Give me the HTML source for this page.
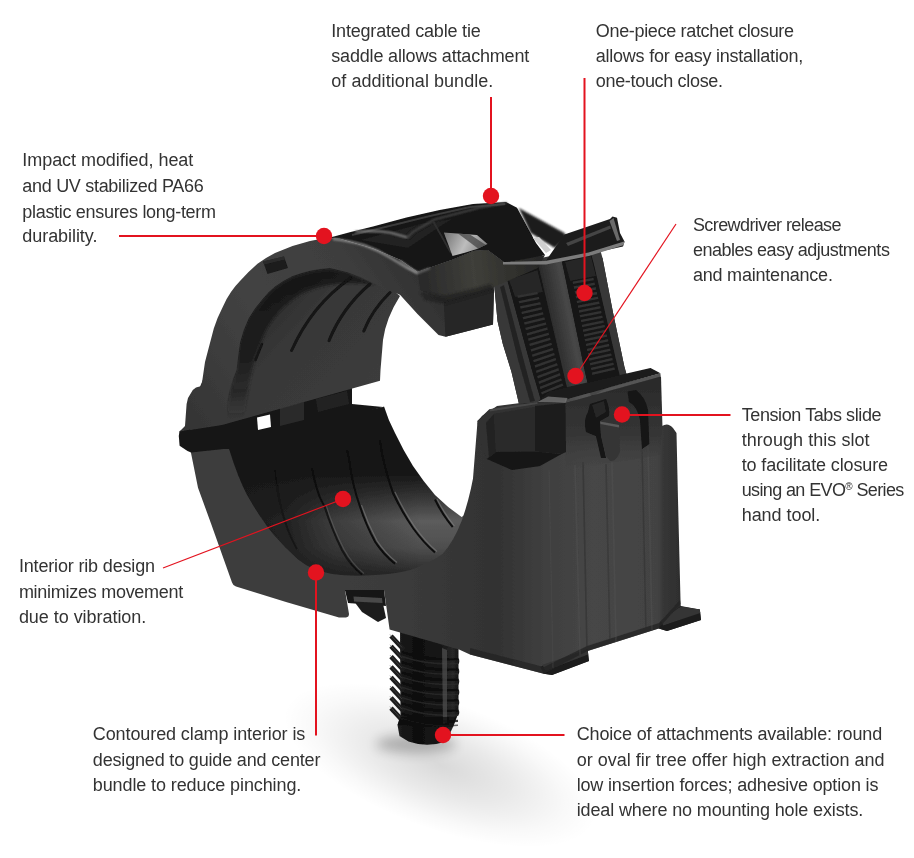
<!DOCTYPE html>
<html lang="en">
<head>
<meta charset="utf-8">
<title>Clamp features</title>
<style>
html,body{margin:0;padding:0;background:#fff;}
body{width:914px;height:858px;overflow:hidden;position:relative;}
svg{position:absolute;left:0;top:0;display:block;}
.t text{font-family:"Liberation Sans",Arial,Helvetica,sans-serif;font-size:18px;fill:#333;}
</style>
</head>
<body>
<svg width="914" height="858" viewBox="0 0 914 858">
<defs>
<!--DEFS-->
<linearGradient id="gStud" gradientUnits="userSpaceOnUse" x1="398" y1="0" x2="459" y2="0">
  <stop offset="0" stop-color="#1c1c1c"/><stop offset=".3" stop-color="#0f0f0f"/><stop offset=".68" stop-color="#161616"/><stop offset=".9" stop-color="#262626"/><stop offset="1" stop-color="#151515"/>
</linearGradient>
<linearGradient id="gInner" gradientUnits="userSpaceOnUse" x1="220" y1="440" x2="440" y2="560">
  <stop offset="0" stop-color="#1f1f1f"/><stop offset=".35" stop-color="#171717"/><stop offset=".62" stop-color="#2b2b2b"/><stop offset=".8" stop-color="#232323"/><stop offset="1" stop-color="#333"/>
</linearGradient>
<linearGradient id="gLit" gradientUnits="userSpaceOnUse" x1="340" y1="545" x2="452" y2="478">
  <stop offset="0" stop-color="#2a2a2a" stop-opacity="0"/><stop offset=".3" stop-color="#3a3a3a" stop-opacity=".8"/><stop offset=".6" stop-color="#505050"/><stop offset="1" stop-color="#666"/>
</linearGradient>
<linearGradient id="gFront" gradientUnits="userSpaceOnUse" x1="190" y1="0" x2="682" y2="0">
  <stop offset="0" stop-color="#3d3d3d"/><stop offset=".2" stop-color="#3e3e3e"/><stop offset=".45" stop-color="#3a3a3a"/><stop offset=".575" stop-color="#343434"/><stop offset=".625" stop-color="#323232"/><stop offset=".66" stop-color="#373737"/><stop offset=".72" stop-color="#3f3f3f"/><stop offset=".82" stop-color="#464646"/><stop offset=".95" stop-color="#434343"/><stop offset=".963" stop-color="#363636"/><stop offset="1" stop-color="#2d2d2d"/>
</linearGradient>
<linearGradient id="gBody" gradientUnits="userSpaceOnUse" x1="470" y1="0" x2="682" y2="0">
  <stop offset="0" stop-color="#2e2e2e"/><stop offset=".2" stop-color="#2f2f2f"/><stop offset=".38" stop-color="#3d3d3d"/><stop offset=".6" stop-color="#474747"/><stop offset=".85" stop-color="#454545"/><stop offset=".96" stop-color="#3a3a3a"/><stop offset="1" stop-color="#2c2c2c"/>
</linearGradient>
<linearGradient id="gTrans" gradientUnits="userSpaceOnUse" x1="440" y1="0" x2="530" y2="0">
  <stop offset="0" stop-color="#363636" stop-opacity="0"/><stop offset=".5" stop-color="#272727" stop-opacity=".85"/><stop offset="1" stop-color="#2e2e2e" stop-opacity="0"/>
</linearGradient>
<linearGradient id="gHead" gradientUnits="userSpaceOnUse" x1="0" y1="380" x2="0" y2="470">
  <stop offset="0" stop-color="#2a2a2a"/><stop offset=".6" stop-color="#353535"/><stop offset="1" stop-color="#404040" stop-opacity="0"/>
</linearGradient>
<linearGradient id="gRibFace" gradientUnits="userSpaceOnUse" x1="240" y1="290" x2="370" y2="410">
  <stop offset="0" stop-color="#262626"/><stop offset=".4" stop-color="#383838"/><stop offset="1" stop-color="#3c3c3c"/>
</linearGradient>
<linearGradient id="gRim" gradientUnits="userSpaceOnUse" x1="190" y1="420" x2="440" y2="250">
  <stop offset="0" stop-color="#353535"/><stop offset=".4" stop-color="#434343"/><stop offset=".7" stop-color="#3e3e3e"/><stop offset="1" stop-color="#2c2c2c"/>
</linearGradient>
<linearGradient id="gBar" gradientUnits="userSpaceOnUse" x1="425" y1="275" x2="540" y2="262">
  <stop offset="0" stop-color="#2b2b2b"/><stop offset=".42" stop-color="#3f3f3a"/><stop offset=".7" stop-color="#33332f"/><stop offset="1" stop-color="#272727"/>
</linearGradient>
<linearGradient id="gWin" gradientUnits="userSpaceOnUse" x1="446" y1="232" x2="486" y2="252">
  <stop offset="0" stop-color="#777"/><stop offset=".5" stop-color="#bdbdbd"/><stop offset="1" stop-color="#7a7a7a"/>
</linearGradient>
<linearGradient id="gMidRib" gradientUnits="userSpaceOnUse" x1="545" y1="300" x2="585" y2="292">
  <stop offset="0" stop-color="#2a2a2a"/><stop offset=".5" stop-color="#474747"/><stop offset="1" stop-color="#303030"/>
</linearGradient>
<radialGradient id="gShadow" cx="0.5" cy="0.5" r="0.5">
  <stop offset="0" stop-color="#000" stop-opacity=".15"/><stop offset=".45" stop-color="#000" stop-opacity=".085"/><stop offset=".8" stop-color="#000" stop-opacity=".025"/><stop offset="1" stop-color="#000" stop-opacity="0"/>
</radialGradient>
<filter id="blur6" x="-50%" y="-200%" width="200%" height="500%"><feGaussianBlur stdDeviation="6"/></filter>
<filter id="blur2" x="-20%" y="-20%" width="140%" height="140%"><feGaussianBlur stdDeviation="1.6"/></filter>
<filter id="blur1" x="-20%" y="-20%" width="140%" height="140%"><feGaussianBlur stdDeviation="0.8"/></filter>
<filter id="blur4" x="-30%" y="-30%" width="160%" height="160%"><feGaussianBlur stdDeviation="4"/></filter>
<linearGradient id="gRimSh" gradientUnits="userSpaceOnUse" x1="0" y1="270" x2="0" y2="420">
  <stop offset="0" stop-color="#151515" stop-opacity=".92"/><stop offset=".55" stop-color="#171717" stop-opacity=".88"/><stop offset=".8" stop-color="#1c1c1c" stop-opacity=".5"/><stop offset="1" stop-color="#222" stop-opacity="0"/>
</linearGradient>
<linearGradient id="gInnerV" gradientUnits="userSpaceOnUse" x1="0" y1="440" x2="0" y2="580">
  <stop offset="0" stop-color="#151515"/><stop offset=".25" stop-color="#181818"/><stop offset=".4" stop-color="#343434"/><stop offset=".58" stop-color="#5c5c5c"/><stop offset=".77" stop-color="#4e4e4e"/><stop offset=".95" stop-color="#2a2a2a"/>
</linearGradient>
<linearGradient id="gInnerH" gradientUnits="userSpaceOnUse" x1="230" y1="0" x2="420" y2="0">
  <stop offset="0" stop-color="#181818" stop-opacity=".97"/><stop offset=".3" stop-color="#181818" stop-opacity=".85"/><stop offset=".55" stop-color="#181818" stop-opacity=".45"/><stop offset="1" stop-color="#181818" stop-opacity="0"/>
</linearGradient>
<filter id="soft" filterUnits="userSpaceOnUse" x="0" y="0" width="914" height="858"><feGaussianBlur stdDeviation="0.5"/></filter>
</defs>
<!--SHADOW-->
<g id="shadow">
  <ellipse cx="440" cy="765" rx="165" ry="64" fill="url(#gShadow)" transform="rotate(20 440 765)"/>
  <ellipse cx="416" cy="744" rx="40" ry="9" fill="#000" opacity=".24" filter="url(#blur6)"/>
</g>

<!--CLAMP-->
<g id="clamp" filter="url(#soft)">
  <!-- ===== stud (fir tree) ===== -->
  <g id="stud">
    <path d="M400,628 L458.5,648 L458.5,713 L453,727 L446,741.5 Q427,748 408.5,741.5 L399.5,736 L397.5,725 L400.5,715 Z" fill="url(#gStud)"/>
    <g stroke="#1b1b1b" stroke-width="4.6" fill="none"><path d="M391,636.0 L404,650.0"/><path d="M391,646.3 L404,660.3"/><path d="M391,656.6 L404,670.6"/><path d="M391,666.9 L404,680.9"/><path d="M391,677.2 L404,691.2"/><path d="M391,687.5 L404,701.5"/><path d="M391,697.8 L404,711.8"/><path d="M391,708.1 L404,722.1"/></g>
    <g stroke="#555" stroke-width="1" fill="none" opacity=".55"><path d="M390,634.5 L402,647.5"/><path d="M390,644.8 L402,657.8"/><path d="M390,655.1 L402,668.1"/><path d="M390,665.4 L402,678.4"/><path d="M390,675.7 L402,688.7"/><path d="M390,686.0 L402,699.0"/><path d="M390,696.3 L402,709.3"/><path d="M390,706.6 L402,719.6"/></g>
    <g fill="#1a1a1a"><path d="M456,656.0 q5,3 2.5,8 l-3,1z"/><path d="M456,666.3 q5,3 2.5,8 l-3,1z"/><path d="M456,676.6 q5,3 2.5,8 l-3,1z"/><path d="M456,686.9 q5,3 2.5,8 l-3,1z"/><path d="M456,697.2 q5,3 2.5,8 l-3,1z"/><path d="M456,707.5 q5,3 2.5,8 l-3,1z"/></g>
    <g stroke="#070707" stroke-width="2.2" opacity=".75" fill="none"><path d="M402,652.0 q26,9 56,7"/><path d="M402,662.3 q26,9 56,7"/><path d="M402,672.6 q26,9 56,7"/><path d="M402,682.9 q26,9 56,7"/><path d="M402,693.2 q26,9 56,7"/><path d="M402,703.5 q26,9 56,7"/><path d="M402,713.8 q26,9 56,7"/></g>
    <g stroke="#2e2e2e" stroke-width="1.4" opacity=".7" fill="none"><path d="M402,656.5 q26,9 56,7"/><path d="M402,666.8 q26,9 56,7"/><path d="M402,677.1 q26,9 56,7"/><path d="M402,687.4 q26,9 56,7"/><path d="M402,697.7 q26,9 56,7"/><path d="M402,708.0 q26,9 56,7"/><path d="M402,718.3 q26,9 56,7"/></g>
    <path d="M442,648 L447,650 L447,722 L443,724 Z" fill="#505050" opacity=".7"/>
    <path d="M397.5,725 L400.5,717 L456.5,717 L453,727Z" fill="#0c0c0c" opacity=".7"/>
  </g>

  <!-- ===== lower half : inner surface ===== -->
  <path id="lowInner" d="M190,448 L383,407 L384,406.6 Q388,420 395,433 Q403,450 413,466 Q423,481 435,495 Q447,507 461.6,517 L466,514 Q470,500 474,478 L478,424 L500,560 L300,600 L215,500 Z" fill="url(#gInnerV)"/>
  <path d="M190,448 L383,407 L384,406.6 Q388,420 395,433 Q403,450 413,466 Q423,481 435,495 Q447,507 461.6,517 L466,514 L500,560 L300,600 L215,500 Z" fill="url(#gInnerH)"/>
  <!-- inner ribs -->
  <g fill="none" stroke="#070707" stroke-width="2" opacity=".9">
    <path d="M275,470 Q280,520 297,549" opacity=".45"/>
    <path d="M312,468 Q317,495 324.4,506 Q332,530 342,550 Q350,565 362,574.7" opacity=".8"/>
    <path d="M347,450 L348.8,457.5 Q352,484 359.8,506 Q366,525 375,541.6 Q384,555 395,563.7"/>
    <path d="M379.7,439.8 Q384,468 393,493 Q402,512 413,528 Q423,542 435,552.6"/>
    <path d="M435,499.5 Q442,514 452.7,527"/>
  </g>
  <g fill="none" stroke="#8a8a8a" stroke-width="1.1" opacity=".5">
    <path d="M361.5,505 Q368,524 377,540.6 Q386,554 397,562.5"/>
    <path d="M395,492 Q404,511 415,527 Q425,541 437,551.5"/>
    <path d="M437,499 Q444,513 454.5,526"/>
    <path d="M326.4,506 Q334,530 344,549 Q352,564 364,573.5" opacity=".6"/>
  </g>

  <!-- ===== lower half front face + body ===== -->
  <path id="lowFront" d="M190,448 L229,449 Q238,478 247,495 Q260,518 273,534 Q285,548 298,559.5 Q306,566 316,570 Q332,575 349.5,575.5 Q368,576 383,574.5 Q398,573 410,570 Q428,564 442.6,554 Q454,541 462,520 Q469,500 473,478.5 L477.4,423 L482,416 L497,406 L536,401 L564,398.7 L660,373.5 L662,426 Q668,422 673,428 L676.5,433 L678,500 L680.6,604 L681,608 L699.8,609.4 L701,620 L667,631 L658.7,628.6 L587.6,651 L589,661 L552,675 L543.8,673.7 L470,654.5 L459,649.4 L389.6,629.6 L384,590 L345,590 L349,614 Q349,617 346,617.5 L339,617.5 L286,602 L236,586.5 Q232.5,585 232,582.6 L211,523.6 L198,487.7 Z" fill="url(#gFront)"/>
  <!-- feet -->
  <path d="M680.6,606 L699.8,609.4 L701,620 L667,631 L658.7,628.6 L660,622 Z" fill="#1b1b1b"/>
  <path d="M661,620 L681,606.5 L699.8,609.4 L700.3,613 L663,625.5Z" fill="#363636"/>
  <path d="M587.6,649 L589,661 L552,675 L543.8,673.7 L540,667 Z" fill="#1a1a1a"/>
  <path d="M542,665 L587.6,649.5 L588.3,654.5 L546,670.5Z" fill="#343434"/>
  <!-- bottom edge shading -->
  <path d="M470,648 L544,667 L587,646 L659,623 L680,600 L680.6,604 L658.7,628.6 L587.6,651 L543.8,673.7 L470,654.5Z" fill="#262626" opacity=".8"/>
  <!-- notch under lower half -->
  <path d="M345,590 L384,590 L386,606 L348,603 Z" fill="#151515"/>
  <path d="M354,597.5 L382,599 L386,618 L378,622 L362,612 L356,604 Z" fill="#1e1e1e"/>
  <path d="M353.5,596.5 L382,598 L382.5,603 L354,601.5Z" fill="#4a4a4a"/>
  <!-- vertical body lines -->
  <g stroke-width="1.5" fill="none">
    <path d="M549,470 L553,668" stroke="#555" opacity=".25"/>
    <path d="M575,465 L580,655" stroke="#5e5e5e" opacity=".28"/>
    <path d="M583,462 L587,651" stroke="#2a2a2a" opacity=".5"/>
    <path d="M612,462 L616,642" stroke="#5e5e5e" opacity=".28"/>
    <path d="M606,464 L610,644" stroke="#2c2c2c" opacity=".45"/>
    <path d="M648,446 L652,630" stroke="#5c5c5c" opacity=".28"/>
    <path d="M642,448 L646,632" stroke="#2c2c2c" opacity=".45"/>
  </g>

  <!-- ===== upper arch ===== -->
  <!-- dark gap/underside -->
  <path d="M179.5,431 L222,422 L352,386 L352,404 L383,407 L233,448 L191,452.5 L187.5,451 L179.6,445.8 L178.8,436 Z" fill="#161616"/>
  <path d="M257,417.5 L270,414.5 L271,427 L258,430Z" fill="#fff"/>
  <path d="M280,408 L304,402 L304,420 L280,426Z" fill="#2c2c2c"/>
  <path d="M316,399 L347,391 L349,404 L318,412Z" fill="#242424"/>
  <!-- ribbed surface -->
  <path id="archFace" d="M190,430 L196,396 L214,354 L242,290 L280,258 L340,247 L400,296 Q386,318 383,340 L380.5,370 L380,380.7 L222,425 Z" fill="url(#gRibFace)"/>
  <!-- shadow under rim -->
  <path d="M226,420 Q230,385 236.5,370 Q238,356 240,342.5 Q243,330 248.8,318 Q255,307.5 262.8,298.8 Q268,292 275,286.5 Q283,280.5 292.5,276 L310,270.8 L330,268 L347,272 L376,285 Q335,279 305,292 Q280,305 266,330 Q254,356 250,380 Q246,400 244,418 Z" fill="url(#gRimSh)" filter="url(#blur2)"/>
  <!-- rib slits -->
  <g stroke="#121212" stroke-width="3" stroke-linecap="round" fill="none">
    <path d="M350.7,278 Q312,305 291.6,350.5"/>
    <path d="M370,284 Q342,308 329,340.7"/>
    <path d="M390,292.5 Q372,310 363.8,331"/>
    <path d="M262,344 L255.5,360" stroke-width="2.4"/>
  </g>
  <!-- rim (outer band front face) -->
  <path id="rim" d="M179.5,431.5 L185,426 L186.6,404 L188,398 L192.8,390 L196,387.5 L201.5,386 L205,362 L213.8,328.5 Q217.5,317 222.5,307.5 Q226,299 231,292 Q235,286 240,281 Q248,272 257.5,263.8 Q266,257.5 275,253 L292.5,246 L310,241 Q318,239 325,238.5 L340,238.7 L373,248.6 L400,259.8 L417.5,272 L452.5,259.8 L473.5,251 L487.5,250 L505,263 L543,254 L536,267.5 L494,285 L493,324.5 L464,332 L445.5,336.8 L438.5,335 L417.5,314 L400,294.8 L393,292 L384,288.5 L362,277.5 L347,272 L330,268 Q320,268.5 310,270.8 Q301,273 292.5,276 Q283,280.5 275,286.5 Q268,292 262.8,298.8 Q255,307.5 248.8,318 Q243,330 240,342.5 Q238,356 236.5,370 Q230,385 227.5,400 L226,423 Z" fill="url(#gRim)"/>
  <!-- rim notch -->
  <path d="M263,261.5 L284,256.5 L288,268 L267.5,274Z" fill="#1a1a1a"/>
  <path d="M263,261.5 L284,256.5 L285,259.5 L264.5,264.5Z" fill="#2c2c2c"/>
  <!-- ===== strap ===== -->
  <path d="M494,283 L536,262 L546,258 L589,250 L602.5,258 L613,312.5 L624.4,366.8 L627,376 L566,404 L536,405 L519,404 L511.5,372 L502.8,344 L497.5,321 Z" fill="#202020"/>
  <!-- left side face -->
  <path d="M494,283 L506.5,277 L532.5,372 L541.5,402 L519,404 L511.5,372 L502.8,344 L497.5,321 Z" fill="#393939"/>
  <path d="M500,287 L504,285 L529,380 L535,401 L530,402 L518,360 Z" fill="#222" opacity=".9"/>
  <!-- left channel -->
  <path d="M506.5,277 L538.5,266 L565.8,382.5 L570,400 L541.5,402 L532.5,372 Z" fill="#131313"/>
  <!-- central rib -->
  <path d="M538.5,266 L541,258 L560,254 L564,270.5 L585,372 L591,397 L570,400 L565.8,382.5 Z" fill="url(#gMidRib)"/>
  <!-- right channel -->
  <path d="M562,262 L565,255 L590,250 L593.8,263.5 L618,368.5 L621,380 L591,397 L585,372 Z" fill="#131313"/>
  <!-- right face -->
  <path d="M590,250 L600,249 L602.5,258 L613,312.5 L624.4,366.8 L627,376 L621,380 L618,368.5 L593.8,263.5 Z" fill="#383838"/>
  <path d="M509,280 L537.5,270 L543,292 L515,297 Z" fill="#272727"/>
  <path d="M565,262 L591,256 L596,276 L570,281 Z" fill="#262626"/>
  <g stroke="#303030" stroke-width="2.6">
    <line x1="517.6" y1="296.8" x2="537.8" y2="293.0"/>
    <line x1="518.9" y1="302.2" x2="539.2" y2="298.1"/>
    <line x1="520.2" y1="307.5" x2="540.6" y2="303.2"/>
    <line x1="521.6" y1="312.9" x2="542.0" y2="308.2"/>
    <line x1="522.9" y1="318.3" x2="543.4" y2="313.3"/>
    <line x1="524.2" y1="323.6" x2="544.8" y2="318.4"/>
    <line x1="525.5" y1="329.0" x2="546.2" y2="323.5"/>
    <line x1="526.8" y1="334.4" x2="547.6" y2="328.6"/>
    <line x1="528.2" y1="339.7" x2="549.0" y2="333.7"/>
    <line x1="529.5" y1="345.1" x2="550.4" y2="338.7"/>
    <line x1="530.8" y1="350.5" x2="551.8" y2="343.8"/>
    <line x1="532.1" y1="355.8" x2="553.2" y2="348.9"/>
    <line x1="533.4" y1="361.2" x2="554.6" y2="354.0"/>
    <line x1="534.8" y1="366.6" x2="556.0" y2="359.1"/>
    <line x1="536.1" y1="371.9" x2="557.4" y2="364.2"/>
    <line x1="537.4" y1="377.3" x2="558.8" y2="369.2"/>
    <line x1="538.7" y1="382.7" x2="560.2" y2="374.3"/>
    <line x1="540.0" y1="388.0" x2="561.6" y2="379.4"/>
    <line x1="541.4" y1="393.4" x2="563.0" y2="384.5"/>
    <line x1="542.7" y1="398.8" x2="564.4" y2="389.6"/>
  </g>
  <g stroke="#303030" stroke-width="2.6">
    <line x1="572.8" y1="282.8" x2="593.8" y2="279.0"/>
    <line x1="573.8" y1="287.6" x2="594.9" y2="283.7"/>
    <line x1="574.8" y1="292.4" x2="596.0" y2="288.4"/>
    <line x1="575.8" y1="297.2" x2="597.1" y2="293.1"/>
    <line x1="576.8" y1="302.0" x2="598.2" y2="297.8"/>
    <line x1="577.9" y1="306.7" x2="599.3" y2="302.6"/>
    <line x1="578.9" y1="311.5" x2="600.4" y2="307.3"/>
    <line x1="579.9" y1="316.3" x2="601.5" y2="312.0"/>
    <line x1="580.9" y1="321.1" x2="602.6" y2="316.7"/>
    <line x1="581.9" y1="325.9" x2="603.7" y2="321.4"/>
    <line x1="582.9" y1="330.7" x2="604.9" y2="326.1"/>
    <line x1="583.9" y1="335.5" x2="606.0" y2="330.8"/>
    <line x1="584.9" y1="340.3" x2="607.1" y2="335.5"/>
    <line x1="585.9" y1="345.1" x2="608.2" y2="340.2"/>
    <line x1="586.9" y1="349.9" x2="609.3" y2="344.9"/>
    <line x1="588.0" y1="354.6" x2="610.4" y2="349.7"/>
    <line x1="589.0" y1="359.4" x2="611.5" y2="354.4"/>
    <line x1="590.0" y1="364.2" x2="612.6" y2="359.1"/>
    <line x1="591.0" y1="369.0" x2="613.7" y2="363.8"/>
    <line x1="592.0" y1="373.8" x2="614.8" y2="368.5"/>
  </g>
  <!-- ===== head (buckle) ===== -->
  <path d="M537.4,402 L549.4,391.3 L650.5,368 L660.5,373.2 L565,399.7 Z" fill="#1b1b1b"/>
  <path d="M565,399.7 L660.5,373.2 L661,376.5 L565.5,403Z" fill="#5a5a5a" opacity=".75"/>
  <path d="M537.4,402 L548,396.5 L567.5,398 L565.5,403 Z" fill="#777" opacity=".8"/>
  <path d="M565.5,403 L661,376.5 L662.5,428 L660,455 L566,470 Z" fill="url(#gHead)"/>
  <!-- left slot + tab -->
  <path d="M590,404 L606,399 Q610,408 609,416 L600,421 L601,436 L606,458 L601,458 L596,436 L586,432 Q583,420 588,412 Z" fill="#131313"/>
  <path d="M600,421.4 L619,425 L620,452 Q616,462 610,461 L606,456 L601,436 Z" fill="#363636"/>
  <path d="M600,421.4 L619,425 L619.2,427.5 L600.5,424Z" fill="#5a5a5a"/>
  <path d="M592,405 L604,401 L606,412 L596,418Z" fill="#2a2a2a" opacity=".8"/>
  <!-- right slot -->
  <path d="M627.6,391.5 L636,390 Q646,398 648,410 L649.3,444 L642,449 L640,420 Q637,406 629,402 Z" fill="#151515"/>
  <!-- left bracket of body -->
  <path d="M477.2,421 L489.3,409.3 L537.4,402 L565.5,403 L566,452 L561.5,454 L539.8,466 L512,470 L486.8,459 L482,450 Z" fill="#303030"/>
  <path d="M486,423 L494,414 L496,452 L489,457 Z" fill="#232323"/>
  <path d="M494,414 L535,407 L535,451.5 L496,452Z" fill="#2a2a2a"/>
  <path d="M496,452 L535,451.5 L561.5,453.9 L539.8,466 L512,470 L486.8,459Z" fill="#171717"/>
  <path d="M535,406 L565.5,403 L566,452 L561.5,454 L535,451.5 Z" fill="#1e1e1e"/>
  <path d="M489.3,409.3 L537.4,402 L537.6,404 L490,411.5Z" fill="#555" opacity=".6"/>
  <!-- saddle block face -->
  <path d="M443.8,300 L491,287 L494,290 L493,324.5 L464,332 L445.5,336.8 Z" fill="#252525"/>
  <path d="M417.5,272 L452.5,259.8 L473.5,251 L487.5,250 L505,263 L545,255 L538,268 L494,287 L443.8,301 L420,290Z" fill="url(#gBar)"/>
  <path d="M420,292 L443.8,296 L491,284 L494,290 L443.8,304 L425,300Z" fill="#1f1f1f" opacity=".6" filter="url(#blur1)"/>
  <!-- black top surface -->
  <path d="M325,238.5 L334,236.6 L350.7,232 L373,226.5 L406.5,217.6 L439.7,210 L473,204 L506,202 L517,207.7 L536,243 L545,255 L505,263 L487.5,250 L473.5,251 L452.5,259.8 L417.5,272 L400,259.8 L373,248.6 L340,238.7 Z" fill="#141414"/>
  <path d="M333,239 Q350,241 363.8,245 Q378,250 390,257.5 L407.5,268 L417.5,273" stroke="#a8a8a8" stroke-width="2" fill="none" opacity=".85" filter="url(#blur1)"/>
  <path d="M352,235 Q390,226 430,216 L470,207 L505,204" stroke="#3a3a3a" stroke-width="2" fill="none"/>
  <path d="M360,240 L420,224 L452,219 L432,232 L408,248 Z" fill="#202020"/>
  <path d="M355,231.5 Q375,230.5 390,232.5 L407.5,237.5" stroke="#8c8c8c" stroke-width="2.2" fill="none" filter="url(#blur1)" opacity=".9"/>
  <path d="M407.5,237.5 L412.8,232 L433.8,219.8 L480,207.5 L506.8,203" stroke="#4c4c4c" stroke-width="2" fill="none" filter="url(#blur1)" opacity=".9"/>
  <path d="M433,221 L450.8,252.8" stroke="#2e2e2e" stroke-width="2" fill="none"/>
  <path d="M400,260.5 L417.5,273 L430,268" stroke="#8a8a8a" stroke-width="1.6" fill="none" opacity=".8" filter="url(#blur1)"/>
  <!-- saddle opening (light) -->
  <path d="M443.8,232.6 L477,235 L487.5,244 L477,249 L464.8,252.8 L452.5,256 Z" fill="url(#gWin)"/>
  <path d="M458,233.5 L470,234.5 L486,245 L478,248.5Z" fill="#444" opacity=".75"/>
  <!-- behind saddle dark blur + lever -->
  <path d="M518.7,208 L564.4,233 L567,238 L554.8,248 L530.7,233 Z" fill="#1a1a1a" filter="url(#blur1)"/>
  <path d="M533,238 L546,253 L551,250 L539,237Z" fill="#cfcfcf"/>
  <path d="M554.8,248 L564.4,234.5 L610,219 L612.5,216.5 L617,217.7 L620,233 L624.6,241.7 L623,246.5 L588.5,254 L545,262 Z" fill="#1c1c1c"/>
  <path d="M503,262 L545,261 L588.5,252.5 L624,241.5 L624,245 L589,256 L546,264.5 L503,264.5Z" fill="#7c7c7c"/>
  <path d="M609.5,221 L613.5,218 L620,240 L617,241Z" fill="#6a6a6a"/>
  <path d="M566,243 L610,225.5 L611,228.5 L568,246Z" fill="#444"/>

</g>

<!--CALLOUTS-->
<g id="callouts" stroke="#e3131f" fill="#e3131f">
  <line x1="119" y1="236" x2="324" y2="236" stroke-width="2"/>
  <circle cx="324" cy="236" r="8.2" stroke="none"/>
  <line x1="491" y1="97" x2="491" y2="196" stroke-width="2"/>
  <circle cx="491" cy="196" r="8.2" stroke="none"/>
  <line x1="584.5" y1="78" x2="584.5" y2="293" stroke-width="2"/>
  <circle cx="584.5" cy="293" r="8.2" stroke="none"/>
  <line x1="676" y1="224" x2="575.5" y2="376" stroke-width="1.2"/>
  <circle cx="575.5" cy="376" r="8.2" stroke="none"/>
  <line x1="622" y1="415" x2="730.5" y2="415" stroke-width="2"/>
  <circle cx="622" cy="414.5" r="8.2" stroke="none"/>
  <line x1="163" y1="568" x2="343" y2="499" stroke-width="1.2"/>
  <circle cx="343" cy="499" r="8.2" stroke="none"/>
  <line x1="316" y1="572" x2="316" y2="735.5" stroke-width="2"/>
  <circle cx="316" cy="572.5" r="8.2" stroke="none"/>
  <line x1="443" y1="735" x2="564.5" y2="735" stroke-width="2"/>
  <circle cx="443" cy="735" r="8.2" stroke="none"/>
</g>
<!--TEXT-->
<g class="t">
  <text x="331.3" y="36.8" textLength="149.4">Integrated cable tie</text>
  <text x="331.3" y="62.3" textLength="198">saddle allows attachment</text>
  <text x="331.3" y="86.7" textLength="162">of additional bundle.</text>

  <text x="595.8" y="36.8" textLength="198.2">One-piece ratchet closure</text>
  <text x="595.8" y="62.3" textLength="207.4">allows for easy installation,</text>
  <text x="595.8" y="86.7" textLength="127.2">one-touch close.</text>

  <text x="22.3" y="166.3" textLength="171">Impact modified, heat</text>
  <text x="22.3" y="191.5" textLength="181.5">and UV stabilized PA66</text>
  <text x="22.3" y="217.5" textLength="193.7">plastic ensures long-term</text>
  <text x="22.3" y="241.9" textLength="75.1">durability.</text>

  <text x="692.9" y="230.7" textLength="148.6">Screwdriver release</text>
  <text x="692.9" y="255.7" textLength="197">enables easy adjustments</text>
  <text x="692.9" y="280.6" textLength="140">and maintenance.</text>

  <text x="741.7" y="420.7" textLength="139.8">Tension Tabs slide</text>
  <text x="741.7" y="445.7" textLength="127.9">through this slot</text>
  <text x="741.7" y="471.2" textLength="146.3">to facilitate closure</text>
  <text x="741.7" y="496.4" textLength="162.6">using an EVO<tspan font-size="10" dy="-6.5">®</tspan><tspan dy="6.5"> Series</tspan></text>
  <text x="741.7" y="521.3" textLength="78.6">hand tool.</text>

  <text x="18.9" y="572" textLength="136.1">Interior rib design</text>
  <text x="18.9" y="597.5" textLength="164.4">minimizes movement</text>
  <text x="18.9" y="622.5" textLength="127.4">due to vibration.</text>

  <text x="92.8" y="739.9" textLength="212.5">Contoured clamp interior is</text>
  <text x="92.8" y="765.5" textLength="227.6">designed to guide and center</text>
  <text x="92.8" y="790.5" textLength="208.5">bundle to reduce pinching.</text>

  <text x="576.7" y="740.2" textLength="305.5">Choice of attachments available: round</text>
  <text x="576.7" y="765.8" textLength="307.9">or oval fir tree offer high extraction and</text>
  <text x="576.7" y="790.6" textLength="301.7">low insertion forces; adhesive option is</text>
  <text x="576.7" y="815.7" textLength="286.6">ideal where no mounting hole exists.</text>
</g>
</svg>
</body>
</html>
